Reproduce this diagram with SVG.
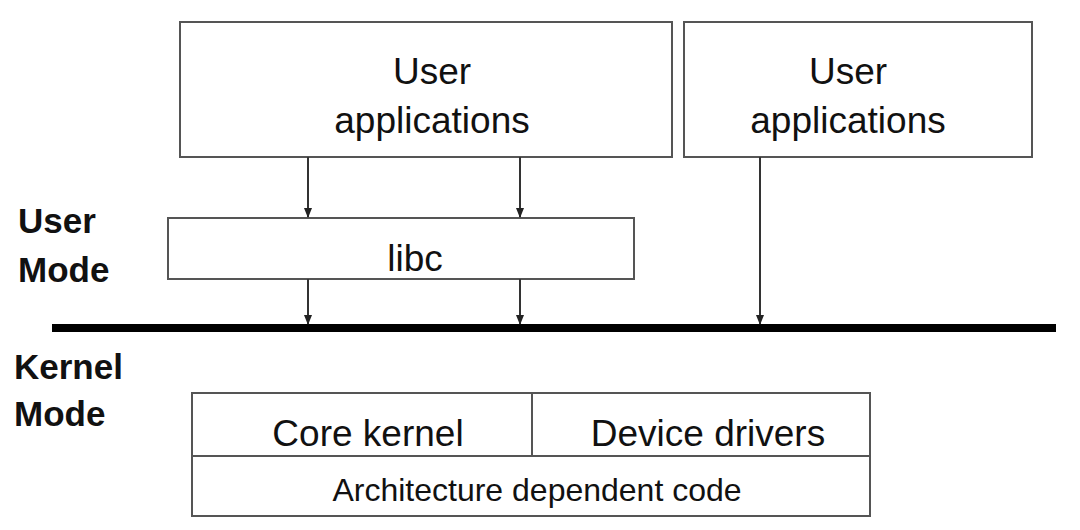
<svg xmlns="http://www.w3.org/2000/svg" width="1080" height="530" viewBox="0 0 1080 530">
<style>
.b{fill:#fff;stroke:#555;stroke-width:2}
.t{font-family:"Liberation Sans",Arial,sans-serif;font-size:37px;fill:#111;text-anchor:middle}
.m{font-family:"Liberation Sans",Arial,sans-serif;font-size:35px;font-weight:bold;fill:#111}
.c{stroke:#333;stroke-width:2;marker-end:url(#a)}
</style>
<defs><marker id="a" markerWidth="10" markerHeight="10" refX="9" refY="5" orient="auto" markerUnits="userSpaceOnUse"><path d="M0,1 L10,5 L0,9 Z" fill="#222"/></marker></defs>
<rect width="1080" height="530" fill="#fff"/>
<g id="ua1"><rect class="b" x="180" y="22" width="492" height="135"/><text class="t" x="432" y="84">User</text><text class="t" x="432" y="133">applications</text></g>
<g id="ua2"><rect class="b" x="684" y="22" width="348" height="135"/><text class="t" x="848" y="84">User</text><text class="t" x="848" y="133">applications</text></g>
<g id="libc"><rect class="b" x="168" y="218" width="466" height="61"/><text class="t" x="415" y="271">libc</text></g>
<g id="kernel"><rect class="b" x="192" y="393" width="678" height="123"/><line x1="192" y1="456" x2="870" y2="456" stroke="#555" stroke-width="2"/><line x1="532" y1="393" x2="532" y2="456" stroke="#555" stroke-width="2"/>
<text class="t" x="368" y="446">Core kernel</text><text class="t" x="708" y="446">Device drivers</text><text class="t" x="537" y="501" style="font-size:32px">Architecture dependent code</text></g>
<g id="labels"><text class="m" x="18" y="233">User</text><text class="m" x="18" y="282">Mode</text><text class="m" x="14" y="379">Kernel</text><text class="m" x="14" y="426">Mode</text></g>
<line x1="52" y1="328" x2="1056" y2="328" stroke="#000" stroke-width="8"/>
<g id="connectors">
<line class="c" x1="308" y1="157" x2="308" y2="217"/>
<line class="c" x1="520" y1="157" x2="520" y2="217"/>
<line class="c" x1="308" y1="279" x2="308" y2="324"/>
<line class="c" x1="520" y1="279" x2="520" y2="324"/>
<line class="c" x1="760" y1="157" x2="760" y2="324"/>
</g>
</svg>
